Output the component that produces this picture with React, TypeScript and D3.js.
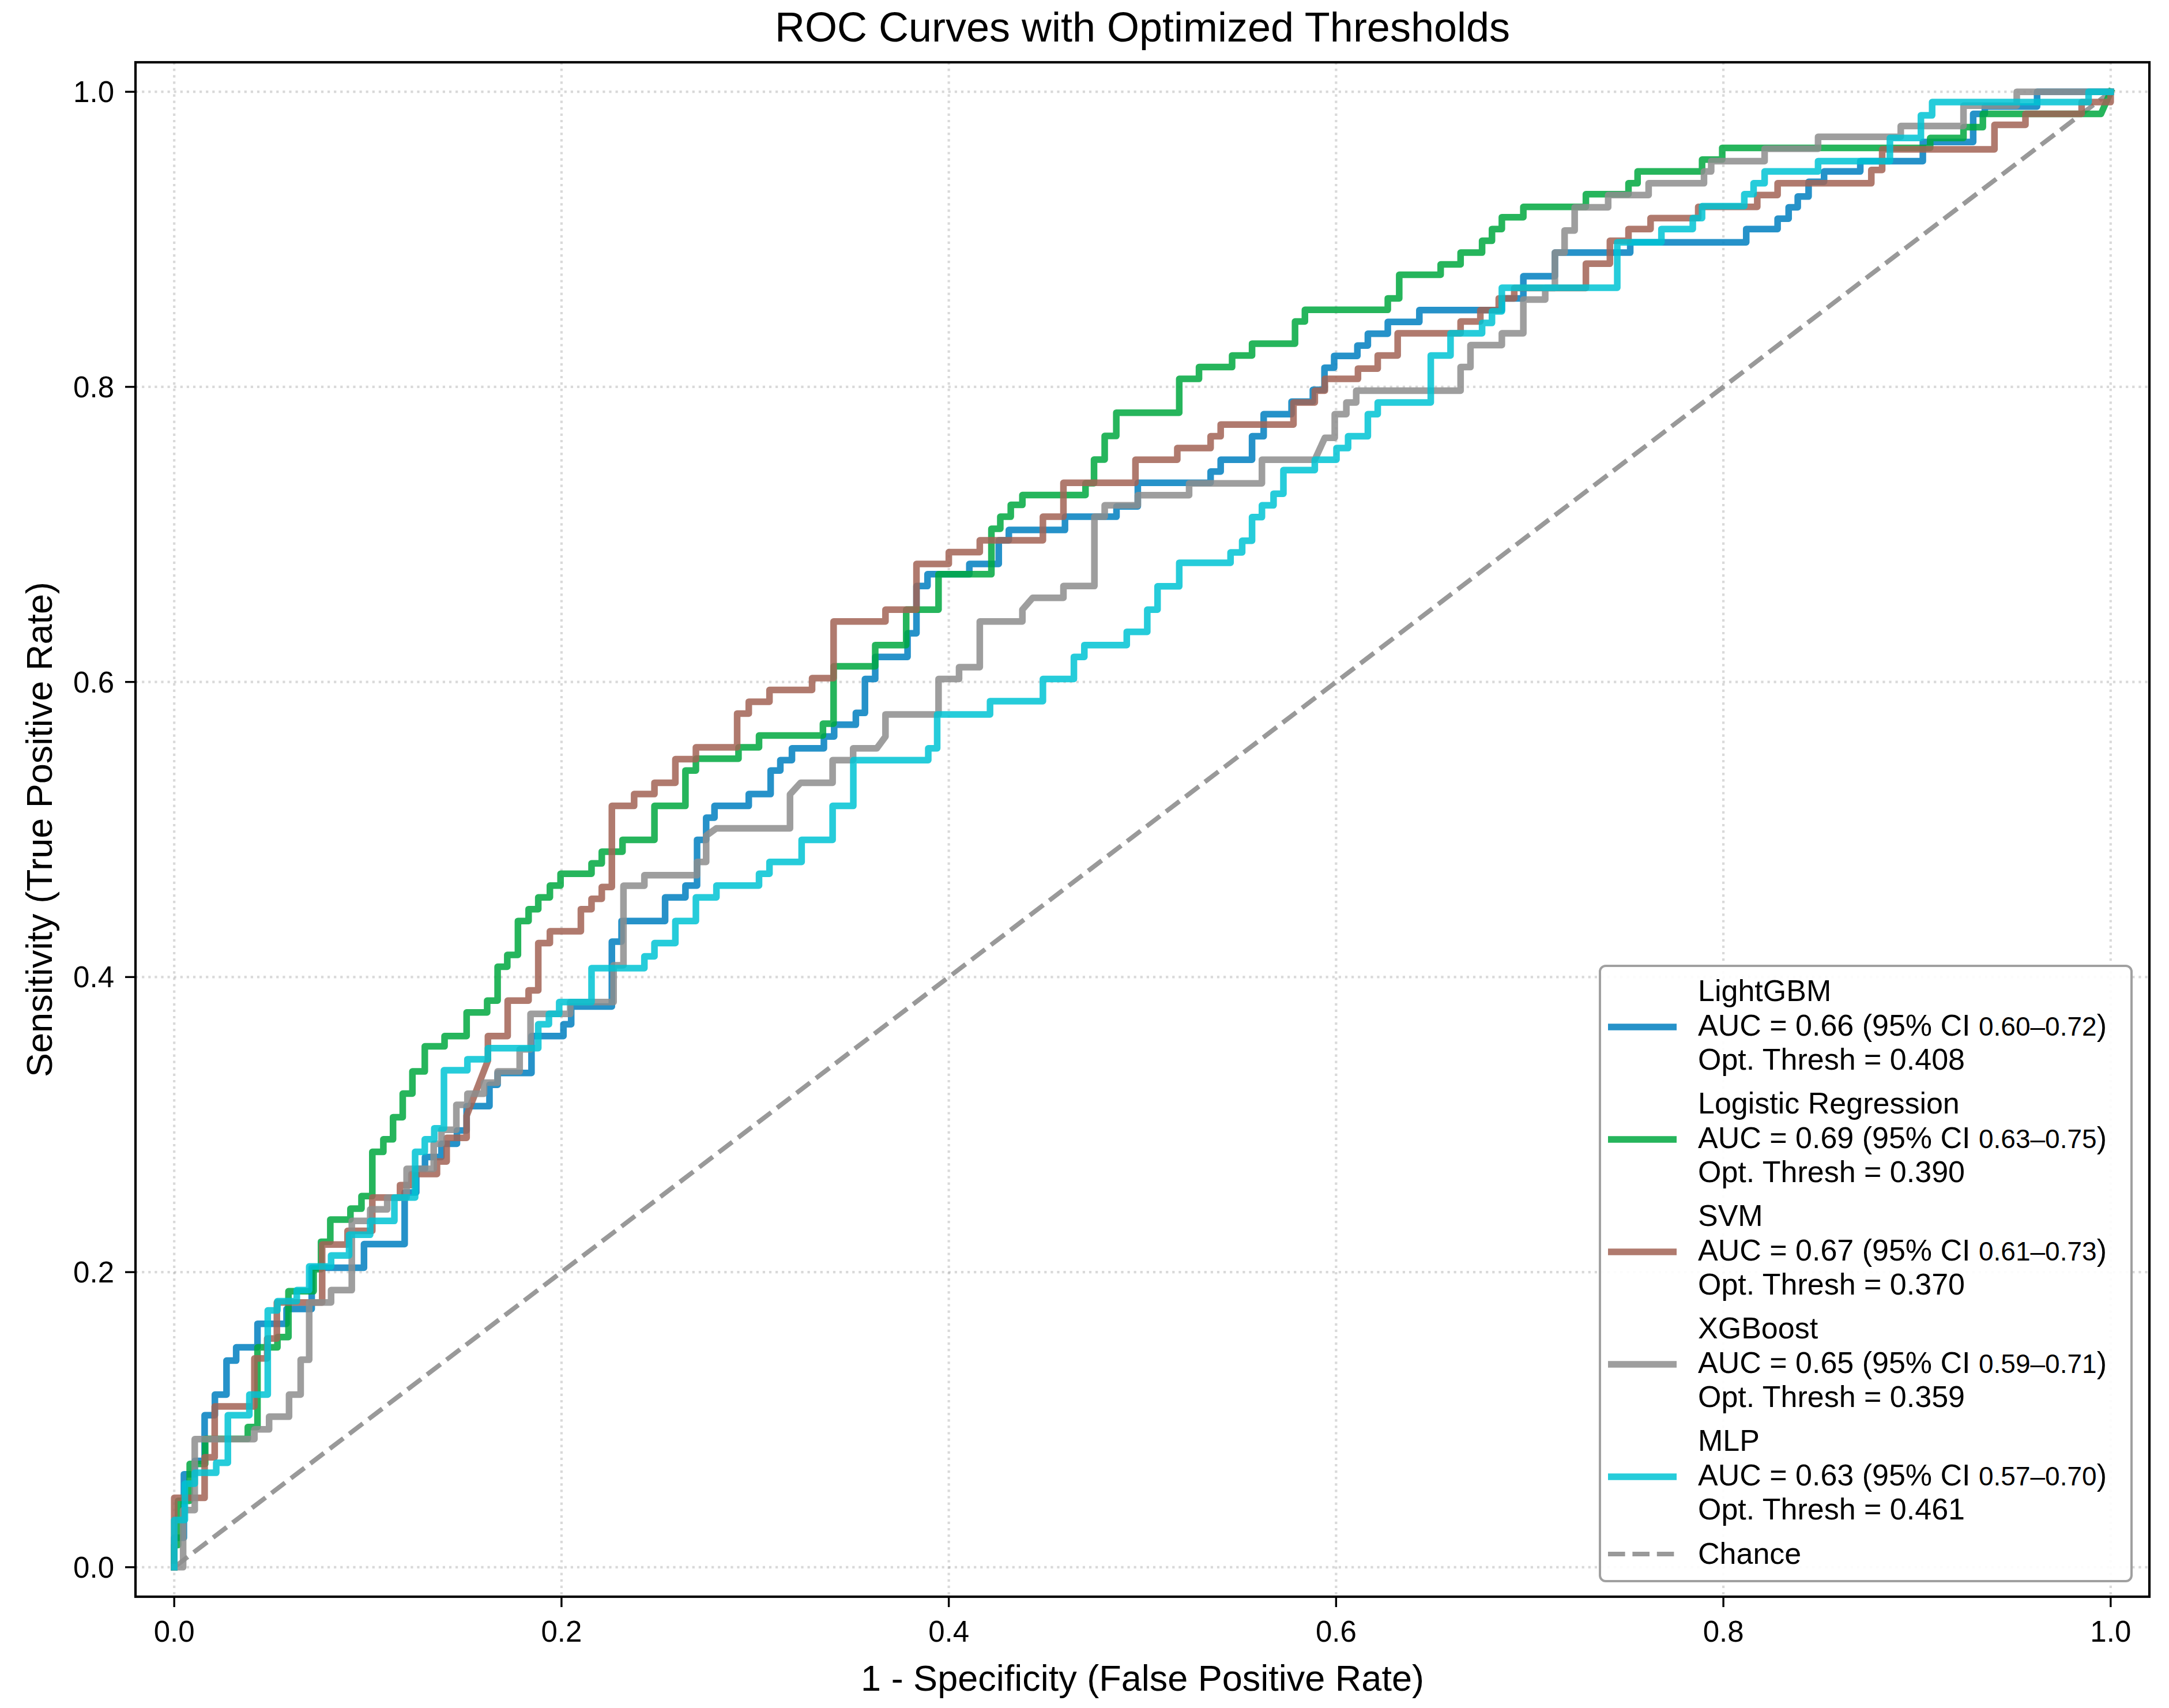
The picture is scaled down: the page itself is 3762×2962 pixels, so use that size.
import React from "react";
import * as d3 from "d3";

type Pt = [number, number];

// ROC vertices (false positive rate, true positive rate) per model
const lightgbmRoc: Pt[] = [
  [0, 0], [0, 0.02], [0.005, 0.02], [0.005, 0.063], [0.0106, 0.063], [0.0106, 0.072], [0.0157, 0.072], [0.0157, 0.103],
  [0.021, 0.103], [0.021, 0.117], [0.027, 0.117], [0.027, 0.14], [0.032, 0.14], [0.032, 0.149], [0.043, 0.149], [0.043, 0.165],
  [0.058, 0.165], [0.058, 0.175], [0.071, 0.175], [0.071, 0.203], [0.098, 0.203], [0.098, 0.219], [0.119, 0.219], [0.119, 0.254],
  [0.125, 0.254], [0.125, 0.27], [0.1295, 0.27], [0.1295, 0.278], [0.138, 0.278], [0.138, 0.287], [0.146, 0.287], [0.146, 0.296],
  [0.151, 0.296], [0.151, 0.3125], [0.1628, 0.3125], [0.1628, 0.327], [0.167, 0.327], [0.167, 0.335], [0.1845, 0.335], [0.1845, 0.36],
  [0.201, 0.36], [0.201, 0.368], [0.205, 0.368], [0.205, 0.38], [0.226, 0.38], [0.226, 0.424], [0.231, 0.424], [0.231, 0.438],
  [0.2535, 0.438], [0.2535, 0.454], [0.264, 0.454], [0.264, 0.462], [0.27, 0.462], [0.27, 0.493], [0.2747, 0.493], [0.2747, 0.508],
  [0.279, 0.508], [0.279, 0.516], [0.2967, 0.516], [0.2967, 0.524], [0.308, 0.524], [0.308, 0.54], [0.313, 0.54], [0.313, 0.547],
  [0.319, 0.547], [0.319, 0.555], [0.3355, 0.555], [0.3355, 0.563], [0.3408, 0.563], [0.3408, 0.571], [0.352, 0.571], [0.352, 0.579],
  [0.3567, 0.579], [0.3567, 0.602], [0.362, 0.602], [0.362, 0.617], [0.3787, 0.617], [0.3787, 0.633], [0.3833, 0.633], [0.3833, 0.665],
  [0.389, 0.665], [0.389, 0.673], [0.4106, 0.673], [0.4106, 0.68], [0.4258, 0.68], [0.4258, 0.696], [0.431, 0.696], [0.431, 0.703],
  [0.46, 0.703], [0.46, 0.712], [0.4866, 0.712], [0.4866, 0.719], [0.4976, 0.719], [0.4976, 0.735], [0.5352, 0.735], [0.5352, 0.7426],
  [0.5404, 0.7426], [0.5404, 0.7506], [0.5566, 0.7506], [0.5566, 0.7665], [0.5626, 0.7665], [0.5626, 0.7815], [0.577, 0.7815], [0.577, 0.79],
  [0.588, 0.79], [0.588, 0.798], [0.594, 0.798], [0.594, 0.813], [0.599, 0.813], [0.599, 0.821], [0.611, 0.821], [0.611, 0.828],
  [0.6164, 0.828], [0.6164, 0.836], [0.6267, 0.836], [0.6267, 0.844], [0.643, 0.844], [0.643, 0.852], [0.6856, 0.852], [0.6856, 0.86],
  [0.6967, 0.86], [0.6967, 0.875], [0.713, 0.875], [0.713, 0.891], [0.7519, 0.891], [0.7519, 0.898], [0.8118, 0.898], [0.8118, 0.907],
  [0.828, 0.907], [0.828, 0.914], [0.8337, 0.914], [0.8337, 0.9217], [0.8384, 0.9217], [0.8384, 0.929], [0.844, 0.929], [0.844, 0.939],
  [0.852, 0.939], [0.852, 0.946], [0.8707, 0.946], [0.8707, 0.953], [0.903, 0.953], [0.903, 0.966], [0.929, 0.966], [0.929, 0.985],
  [0.935, 0.985], [0.935, 0.99], [0.962, 0.99], [0.962, 1.0], [1, 1],
];

const logisticRoc: Pt[] = [
  [0, 0], [0, 0.015], [0.002, 0.015], [0.002, 0.045], [0.008, 0.045], [0.008, 0.07], [0.016, 0.07], [0.016, 0.087],
  [0.038, 0.087], [0.038, 0.095], [0.043, 0.095], [0.043, 0.149], [0.0533, 0.149], [0.0533, 0.156], [0.059, 0.156], [0.059, 0.187],
  [0.072, 0.187], [0.072, 0.202], [0.0758, 0.202], [0.0758, 0.2206], [0.0806, 0.2206], [0.0806, 0.2356], [0.091, 0.2356], [0.091, 0.243],
  [0.0967, 0.243], [0.0967, 0.2515], [0.1023, 0.2515], [0.1023, 0.2815], [0.108, 0.2815], [0.108, 0.29], [0.113, 0.29], [0.113, 0.305],
  [0.118, 0.305], [0.118, 0.321], [0.123, 0.321], [0.123, 0.336], [0.1294, 0.336], [0.1294, 0.353], [0.1396, 0.353], [0.1396, 0.36],
  [0.151, 0.36], [0.151, 0.376], [0.1616, 0.376], [0.1616, 0.384], [0.167, 0.384], [0.167, 0.407], [0.172, 0.407], [0.172, 0.415],
  [0.1775, 0.415], [0.1775, 0.438], [0.183, 0.438], [0.183, 0.446], [0.188, 0.446], [0.188, 0.454], [0.194, 0.454], [0.194, 0.462],
  [0.1995, 0.462], [0.1995, 0.47], [0.2155, 0.47], [0.2155, 0.477], [0.2208, 0.477], [0.2208, 0.485], [0.2315, 0.485], [0.2315, 0.493],
  [0.248, 0.493], [0.248, 0.516], [0.264, 0.516], [0.264, 0.54], [0.2694, 0.54], [0.2694, 0.548], [0.2914, 0.548], [0.2914, 0.5557],
  [0.302, 0.5557], [0.302, 0.5637], [0.335, 0.5637], [0.335, 0.5717], [0.3405, 0.5717], [0.3405, 0.6106], [0.362, 0.6106], [0.362, 0.625],
  [0.378, 0.625], [0.378, 0.649], [0.3947, 0.649], [0.3947, 0.673], [0.422, 0.673], [0.422, 0.7038], [0.4266, 0.7038], [0.4266, 0.712],
  [0.432, 0.712], [0.432, 0.72], [0.438, 0.72], [0.438, 0.7267], [0.4706, 0.7267], [0.4706, 0.7347], [0.475, 0.7347], [0.475, 0.7507],
  [0.4805, 0.7507], [0.4805, 0.7667], [0.4865, 0.7667], [0.4865, 0.7825], [0.519, 0.7825], [0.519, 0.8054], [0.5292, 0.8054], [0.5292, 0.8134],
  [0.5463, 0.8134], [0.5463, 0.8213], [0.5566, 0.8213], [0.5566, 0.8293], [0.5788, 0.8293], [0.5788, 0.8443], [0.5839, 0.8443], [0.5839, 0.8522],
  [0.6267, 0.8522], [0.6267, 0.86], [0.6326, 0.86], [0.6326, 0.876], [0.654, 0.876], [0.654, 0.883], [0.6643, 0.883], [0.6643, 0.891],
  [0.6754, 0.891], [0.6754, 0.899], [0.6805, 0.899], [0.6805, 0.907], [0.6856, 0.907], [0.6856, 0.915], [0.6967, 0.915], [0.6967, 0.922],
  [0.729, 0.922], [0.729, 0.9306], [0.751, 0.9306], [0.751, 0.938], [0.7557, 0.938], [0.7557, 0.946], [0.789, 0.946], [0.789, 0.954],
  [0.7994, 0.954], [0.7994, 0.962], [0.9068, 0.962], [0.9068, 0.9687], [0.924, 0.9687], [0.924, 0.976], [0.934, 0.976], [0.934, 0.985],
  [0.995, 0.985], [1, 1],
];

const svmRoc: Pt[] = [
  [0, 0], [0, 0.047], [0.0157, 0.047], [0.0157, 0.0745], [0.0209, 0.0745], [0.0209, 0.109], [0.0414, 0.109], [0.0414, 0.1415],
  [0.048, 0.1415], [0.048, 0.155], [0.053, 0.155], [0.053, 0.1794], [0.0764, 0.1794], [0.0764, 0.2187], [0.0895, 0.2187], [0.0895, 0.228],
  [0.1023, 0.228], [0.1023, 0.2506], [0.1166, 0.2506], [0.1166, 0.259], [0.1225, 0.259], [0.1225, 0.2665], [0.1357, 0.2665], [0.1357, 0.275],
  [0.1407, 0.275], [0.1407, 0.291], [0.151, 0.291], [0.151, 0.306], [0.162, 0.3434], [0.162, 0.36], [0.1722, 0.36], [0.1722, 0.384],
  [0.183, 0.384], [0.183, 0.391], [0.188, 0.391], [0.188, 0.423], [0.194, 0.423], [0.194, 0.431], [0.21, 0.431], [0.21, 0.446],
  [0.2155, 0.446], [0.2155, 0.453], [0.2208, 0.453], [0.2208, 0.461], [0.226, 0.461], [0.226, 0.516], [0.2375, 0.516], [0.2375, 0.524],
  [0.248, 0.524], [0.248, 0.5317], [0.2588, 0.5317], [0.2588, 0.5477], [0.2694, 0.5477], [0.2694, 0.5557], [0.2907, 0.5557], [0.2907, 0.5786],
  [0.2967, 0.5786], [0.2967, 0.5866], [0.3074, 0.5866], [0.3074, 0.5946], [0.3294, 0.5946], [0.3294, 0.6026], [0.3405, 0.6026], [0.3405, 0.641],
  [0.3673, 0.641], [0.3673, 0.649], [0.3833, 0.649], [0.3833, 0.68], [0.4, 0.68], [0.4, 0.688], [0.416, 0.688], [0.416, 0.696],
  [0.4486, 0.696], [0.4486, 0.712], [0.4592, 0.712], [0.4592, 0.735], [0.4964, 0.735], [0.4964, 0.7506], [0.518, 0.7506], [0.518, 0.7585],
  [0.5352, 0.7585], [0.5352, 0.7665], [0.5404, 0.7665], [0.5404, 0.7745], [0.578, 0.7745], [0.578, 0.7894], [0.589, 0.7894], [0.589, 0.7974],
  [0.5942, 0.7974], [0.5942, 0.8054], [0.6113, 0.8054], [0.6113, 0.8124], [0.6215, 0.8124], [0.6215, 0.8213], [0.6318, 0.8213], [0.6318, 0.8363],
  [0.6643, 0.8363], [0.6643, 0.8443], [0.6745, 0.8443], [0.6745, 0.852], [0.684, 0.852], [0.684, 0.86], [0.692, 0.86], [0.692, 0.867],
  [0.729, 0.867], [0.729, 0.8835], [0.7414, 0.8835], [0.7414, 0.899], [0.751, 0.899], [0.751, 0.907], [0.7624, 0.907], [0.7624, 0.9144],
  [0.787, 0.9144], [0.787, 0.922], [0.8175, 0.922], [0.8175, 0.93], [0.828, 0.93], [0.828, 0.938], [0.8764, 0.938], [0.8764, 0.947],
  [0.882, 0.947], [0.882, 0.961], [0.94, 0.961], [0.94, 0.9776], [0.956, 0.9776], [0.956, 0.985], [0.985, 0.985], [0.985, 0.993],
  [1, 0.993], [1, 1],
];

const xgboostRoc: Pt[] = [
  [0, 0], [0.0046, 0], [0.0046, 0.0387], [0.0106, 0.0387], [0.0106, 0.0868], [0.0414, 0.0868], [0.0414, 0.0934], [0.049, 0.0934],
  [0.049, 0.102], [0.0593, 0.102], [0.0593, 0.117], [0.0653, 0.117], [0.0653, 0.1406], [0.0697, 0.1406], [0.0697, 0.1794], [0.081, 0.1794],
  [0.081, 0.1878], [0.0917, 0.1878], [0.0917, 0.2347], [0.1012, 0.2347], [0.1012, 0.2425], [0.11, 0.2425], [0.11, 0.2506], [0.12, 0.2506],
  [0.12, 0.27], [0.134, 0.27], [0.134, 0.287], [0.138, 0.287], [0.138, 0.2965], [0.1457, 0.2965], [0.1457, 0.3134], [0.1514, 0.3134],
  [0.1514, 0.3209], [0.16, 0.3209], [0.16, 0.3284], [0.167, 0.3284], [0.167, 0.336], [0.1784, 0.336], [0.1784, 0.351], [0.184, 0.351],
  [0.184, 0.375], [0.2045, 0.375], [0.2045, 0.383], [0.2269, 0.383], [0.2269, 0.408], [0.232, 0.408], [0.232, 0.4619], [0.2428, 0.4619],
  [0.2428, 0.469], [0.27, 0.469], [0.27, 0.478], [0.2747, 0.478], [0.2747, 0.4958], [0.28, 0.5008], [0.318, 0.5008], [0.318, 0.5238],
  [0.3235, 0.5317], [0.34, 0.5317], [0.34, 0.547], [0.3506, 0.547], [0.3506, 0.555], [0.3628, 0.555], [0.3673, 0.563], [0.3673, 0.578],
  [0.3947, 0.578], [0.3947, 0.602], [0.4053, 0.602], [0.4053, 0.61], [0.416, 0.61], [0.416, 0.641], [0.438, 0.641], [0.438, 0.649],
  [0.4433, 0.657], [0.4592, 0.657], [0.4592, 0.665], [0.4752, 0.665], [0.4752, 0.712], [0.4805, 0.712], [0.4805, 0.7197], [0.4976, 0.7197],
  [0.4976, 0.7266], [0.5241, 0.7266], [0.5241, 0.7346], [0.5617, 0.7346], [0.5617, 0.7506], [0.589, 0.7506], [0.5942, 0.7655], [0.5993, 0.7655],
  [0.5993, 0.7815], [0.6053, 0.7815], [0.6053, 0.7894], [0.6104, 0.7894], [0.6104, 0.7974], [0.6643, 0.7974], [0.6643, 0.8134], [0.6694, 0.8134],
  [0.6694, 0.8283], [0.6856, 0.8283], [0.6856, 0.8363], [0.6967, 0.8363], [0.6967, 0.8592], [0.708, 0.8592], [0.708, 0.867], [0.713, 0.867],
  [0.713, 0.891], [0.718, 0.891], [0.718, 0.906], [0.7232, 0.906], [0.7232, 0.9217], [0.7405, 0.9217], [0.7405, 0.93], [0.7614, 0.93],
  [0.7614, 0.938], [0.79, 0.938], [0.79, 0.946], [0.7937, 0.946], [0.7937, 0.953], [0.8213, 0.953], [0.8213, 0.9614], [0.8489, 0.9614],
  [0.8489, 0.9695], [0.8916, 0.9695], [0.8916, 0.9768], [0.924, 0.9768], [0.924, 0.9906], [0.9515, 0.9906], [0.9515, 1.0], [1, 1],
];

const mlpRoc: Pt[] = [
  [0, 0], [0, 0.032], [0.0055, 0.032], [0.0055, 0.0566], [0.0106, 0.0566], [0.0106, 0.064], [0.0217, 0.064], [0.0217, 0.0708],
  [0.0277, 0.0708], [0.0277, 0.103], [0.0388, 0.103], [0.0388, 0.117], [0.0483, 0.117], [0.0483, 0.174], [0.0533, 0.174], [0.0533, 0.1803],
  [0.0633, 0.1803], [0.0633, 0.1878], [0.0697, 0.1878], [0.0697, 0.2038], [0.081, 0.2038], [0.081, 0.2113], [0.0903, 0.2113], [0.0903, 0.2253],
  [0.1012, 0.2253], [0.1012, 0.2347], [0.1137, 0.2347], [0.1137, 0.2506], [0.1244, 0.2506], [0.1244, 0.2815], [0.1294, 0.2815], [0.1294, 0.29],
  [0.1343, 0.29], [0.1343, 0.2975], [0.1393, 0.2975], [0.1393, 0.3368], [0.1514, 0.3368], [0.1514, 0.3443], [0.162, 0.3443], [0.162, 0.3518],
  [0.188, 0.3518], [0.188, 0.368], [0.1935, 0.368], [0.1935, 0.375], [0.1988, 0.375], [0.1988, 0.383], [0.2155, 0.383], [0.2155, 0.406],
  [0.2428, 0.406], [0.2428, 0.414], [0.248, 0.414], [0.248, 0.423], [0.2588, 0.423], [0.2588, 0.438], [0.2694, 0.438], [0.2694, 0.454],
  [0.28, 0.454], [0.28, 0.462], [0.302, 0.462], [0.302, 0.47], [0.3074, 0.47], [0.3074, 0.478], [0.324, 0.478], [0.324, 0.493],
  [0.34, 0.493], [0.34, 0.516], [0.3507, 0.516], [0.3507, 0.547], [0.3894, 0.547], [0.3894, 0.555], [0.394, 0.555], [0.394, 0.578],
  [0.4213, 0.578], [0.4213, 0.587], [0.4486, 0.587], [0.4486, 0.602], [0.4646, 0.602], [0.4646, 0.617], [0.47, 0.617], [0.47, 0.625],
  [0.4919, 0.625], [0.4919, 0.634], [0.5025, 0.634], [0.5025, 0.649], [0.5078, 0.649], [0.5078, 0.6648], [0.519, 0.6648], [0.519, 0.6808],
  [0.5455, 0.6808], [0.5455, 0.6878], [0.5515, 0.6878], [0.5515, 0.6957], [0.5566, 0.6957], [0.5566, 0.7117], [0.5617, 0.7117], [0.5617, 0.7197],
  [0.5677, 0.7197], [0.5677, 0.7276], [0.5728, 0.7276], [0.5728, 0.7436], [0.589, 0.7436], [0.589, 0.7506], [0.6002, 0.7506], [0.6002, 0.7585],
  [0.6062, 0.7585], [0.6062, 0.7665], [0.6164, 0.7665], [0.6164, 0.7815], [0.6215, 0.7815], [0.6215, 0.7894], [0.6489, 0.7894], [0.6489, 0.8213],
  [0.6591, 0.8213], [0.6591, 0.8363], [0.6754, 0.8363], [0.6754, 0.8433], [0.6805, 0.8433], [0.6805, 0.8512], [0.6856, 0.8512], [0.6856, 0.8672],
  [0.7452, 0.8672], [0.7452, 0.898], [0.768, 0.898], [0.768, 0.907], [0.7842, 0.907], [0.7842, 0.9144], [0.789, 0.9144], [0.789, 0.9225],
  [0.8108, 0.9225], [0.8108, 0.9306], [0.8156, 0.9306], [0.8156, 0.938], [0.8213, 0.938], [0.8213, 0.946], [0.8489, 0.946], [0.8489, 0.953],
  [0.886, 0.953], [0.886, 0.9687], [0.902, 0.9687], [0.902, 0.984], [0.9078, 0.984], [0.9078, 0.993], [0.9886, 0.993], [0.9886, 1.0],
  [1, 1],
];

const modelNames = ["LightGBM", "Logistic Regression", "SVM", "XGBoost", "MLP"];
const modelCurves = [lightgbmRoc, logisticRoc, svmRoc, xgboostRoc, mlpRoc];
const modelColors = ["#007FBF", "#00A840", "#A26355", "#8D8D8D", "#00C3D3"];
const aucValues = [0.66, 0.69, 0.67, 0.65, 0.63];
const ciLower = [0.6, 0.63, 0.61, 0.59, 0.57];
const ciUpper = [0.72, 0.75, 0.73, 0.71, 0.7];
const optThresholds = [0.408, 0.39, 0.37, 0.359, 0.461];
const axisTicks = [0, 0.2, 0.4, 0.6, 0.8, 1.0];
const chanceLine: Pt[] = [[0, 0], [1, 1]];

const FONT = "'Liberation Sans', Arimo, Arial, sans-serif";

export default function App() {
  const W = 3762;
  const H = 2962;
  const left = 235, right = 3728, top = 108, bottom = 2769;

  const x = d3.scaleLinear().domain([-0.02, 1.02]).range([left, right]);
  const y = d3.scaleLinear().domain([-0.02, 1.02]).range([bottom, top]);
  const line = d3.line<Pt>().x((d) => x(d[0])).y((d) => y(d[1]));

  const curveAlpha = 0.85;
  const curveWidth = 11.5;

  // legend geometry
  const lgX = 2775, lgY = 1675, lgW = 922, lgH = 1067;
  const handleX0 = 2789, handleX1 = 2908, textX = 2945;
  const entryY = (i: number) => 1781 + i * 195;
  const legendFont = 52;

  return (
    <svg
      width={W}
      height={H}
      viewBox={`0 0 ${W} ${H}`}
      style={{ position: "absolute", left: 0, top: 0, display: "block" }}
      fontFamily={FONT}
    >
      <rect x={0} y={0} width={W} height={H} fill="#ffffff" />

      {/* title */}
      <text x={(left + right) / 2} y={72} textAnchor="middle" fontSize={72} fill="#000">
        ROC Curves with Optimized Thresholds
      </text>

      {/* grid */}
      <g stroke="#808080" strokeOpacity={0.3} strokeWidth={4.2} strokeDasharray="4.2 6.9">
        {axisTicks.map((t) => (
          <line key={"gx" + t} x1={x(t)} x2={x(t)} y1={top} y2={bottom} />
        ))}
        {axisTicks.map((t) => (
          <line key={"gy" + t} x1={left} x2={right} y1={y(t)} y2={y(t)} />
        ))}
      </g>

      {/* chance diagonal */}
      <path
        d={line(chanceLine) || ""}
        fill="none"
        stroke="#999999"
        strokeWidth={8}
        strokeDasharray="29.6 12.8"
      />

      {/* ROC curves */}
      {modelCurves.map((c, i) => (
        <path
          key={modelNames[i]}
          d={line(c) || ""}
          fill="none"
          stroke={modelColors[i]}
          strokeOpacity={curveAlpha}
          strokeWidth={curveWidth}
          strokeLinejoin="round"
          strokeLinecap="square"
        />
      ))}

      {/* axes frame */}
      <rect x={left} y={top} width={right - left} height={bottom - top} fill="none" stroke="#000" strokeWidth={4.2} />

      {/* x ticks */}
      {axisTicks.map((t) => (
        <g key={"xt" + t}>
          <line x1={x(t)} x2={x(t)} y1={bottom} y2={bottom + 18} stroke="#000" strokeWidth={3.4} />
          <text x={x(t)} y={2847} textAnchor="middle" fontSize={51} fill="#000">
            {t.toFixed(1)}
          </text>
        </g>
      ))}

      {/* y ticks */}
      {axisTicks.map((t) => (
        <g key={"yt" + t}>
          <line x1={left - 18} x2={left} y1={y(t)} y2={y(t)} stroke="#000" strokeWidth={3.4} />
          <text x={198} y={y(t) + 18} textAnchor="end" fontSize={51} fill="#000">
            {t.toFixed(1)}
          </text>
        </g>
      ))}

      {/* axis labels */}
      <text x={(left + right) / 2} y={2932} textAnchor="middle" fontSize={63} fill="#000">
        1 - Specificity (False Positive Rate)
      </text>
      <text
        transform={`translate(90, ${(top + bottom) / 2}) rotate(-90)`}
        textAnchor="middle"
        fontSize={63}
        fill="#000"
      >
        Sensitivity (True Positive Rate)
      </text>

      {/* legend */}
      <rect
        x={lgX}
        y={lgY}
        width={lgW}
        height={lgH}
        rx={10}
        ry={10}
        fill="#ffffff"
        fillOpacity={0.9}
        stroke="#a0a0a0"
        strokeWidth={4}
      />
      {modelNames.map((name, i) => {
        const hy = entryY(i);
        return (
          <g key={"lg" + name}>
            <line
              x1={handleX0}
              x2={handleX1}
              y1={hy}
              y2={hy}
              stroke={modelColors[i]}
              strokeOpacity={curveAlpha}
              strokeWidth={curveWidth}
            />
            <text x={textX} y={hy - 45} fontSize={legendFont} fill="#000">
              {name}
            </text>
            <text x={textX} y={hy + 15} fontSize={legendFont} fill="#000">
              {`AUC = ${aucValues[i].toFixed(2)} (95% CI `}
              <tspan fontSize={46}>{`${ciLower[i].toFixed(2)}\u2013${ciUpper[i].toFixed(2)}`}</tspan>
              {")"}
            </text>
            <text x={textX} y={hy + 74} fontSize={legendFont} fill="#000">
              {`Opt. Thresh = ${optThresholds[i].toFixed(3)}`}
            </text>
          </g>
        );
      })}
      <line
        x1={handleX0}
        x2={handleX1}
        y1={2695}
        y2={2695}
        stroke="#999999"
        strokeWidth={8}
        strokeDasharray="29.6 12.8"
      />
      <text x={textX} y={2712} fontSize={legendFont} fill="#000">
        Chance
      </text>
    </svg>
  );
}
